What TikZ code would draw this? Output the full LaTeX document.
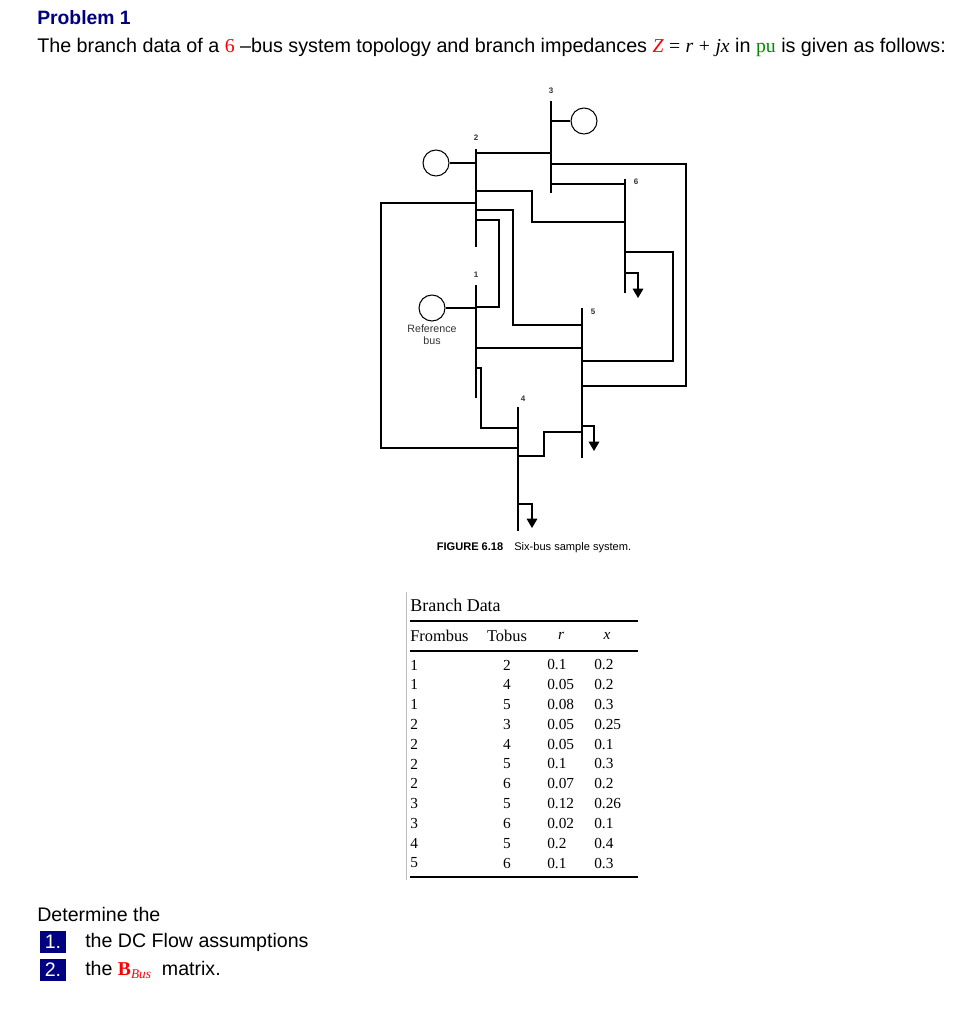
\documentclass[tikz,border=0pt]{standalone}
\usepackage{fontspec}
\setmainfont{Liberation Sans}
\newfontfamily\serif{Liberation Serif}
\definecolor{navy}{RGB}{0,0,128}
\definecolor{pugreen}{RGB}{0,140,0}
\usetikzlibrary{arrows.meta}
\begin{document}
\begin{tikzpicture}[x=0.75pt,y=-0.75pt,
  wire/.style={line width=0.8pt},
  bus/.style={line width=1.1pt},
  gen/.style={circle,draw,line width=0.8pt,minimum size=19.5pt,inner sep=0pt},
  lbl/.style={font=\fontsize{6}{7}\selectfont\bfseries,text=black!80,inner sep=0pt},
  load/.style={-{Triangle[length=7pt,width=8pt]},line width=0.8pt},
  hd/.style={anchor=west,inner sep=0pt},
  body/.style={font=\fontsize{14.7}{17}\selectfont},
  cell/.style={font=\serif\fontsize{11.5}{13}\selectfont,inner sep=0pt},
  num/.style={fill=navy,text=white,inner sep=0pt,minimum width=19.5pt,minimum height=17pt,font=\fontsize{14.7}{15}\selectfont}]
\useasboundingbox (0,0) rectangle (964,1024);
% header
\node[hd,font=\fontsize{14.5}{16}\selectfont\bfseries,text=navy] (title) at (37,18) {Problem 1};
\node[hd,font=\fontsize{14.8}{17}\selectfont] (intro) at (37,47) {The branch data of a {\serif\color{red}6} --bus system topology and branch impedances {\serif\itshape\color{red}Z} {\serif=} {\serif\itshape r} {\serif+} {\serif\itshape jx} in {\serif\color{pugreen}pu} is given as follows:};
% buses
\coordinate (b3t) at (551,101); \coordinate (b3b) at (551,193);
\coordinate (b2t) at (476,149); \coordinate (b2b) at (476,247);
\coordinate (b6t) at (625,179); \coordinate (b6b) at (625,293);
\coordinate (b1t) at (476,285); \coordinate (b1b) at (476,398);
\coordinate (b5t) at (582,308); \coordinate (b5b) at (582,458);
\coordinate (b4t) at (518,407); \coordinate (b4b) at (518,531);
\foreach \a/\b in {b3t/b3b,b2t/b2b,b6t/b6b,b1t/b1b,b5t/b5b,b4t/b4b} \draw[bus] (\a) -- (\b);
\node[lbl] (l3) at (551,91) {3};
\node[lbl] (l2) at (476,138) {2};
\node[lbl] (l6) at (636,182) {6};
\node[lbl] (l1) at (476,275) {1};
\node[lbl] (l5) at (593,312) {5};
\node[lbl] (l4) at (523,399) {4};
% generators
\node[gen] (g3) at (584,121) {};
\node[gen] (g2) at (436,163) {};
\node[gen] (g1) at (432,308) {};
\draw[wire] (g3.west) -- (551,121);
\draw[wire] (g2.east) -- (476,163);
\draw[wire] (g1.east) -- (476,308);
\node[font=\fontsize{8}{9}\selectfont,text=black!80,align=center,inner sep=0pt] (ref) at (432,335) {Reference\\bus};
% branches
\draw[wire] (476,153) -- (551,153); % 2-3
\draw[wire] (551,164) -- (686,164) -- (686,386) -- (582,386); % 3-5
\draw[wire] (551,184) -- (625,184); % 3-6
\draw[wire] (476,191) -- (532,191) -- (532,222) -- (625,222); % 2-6
\draw[wire] (476,203) -- (381,203) -- (381,448) -- (518,448); % 2-4
\draw[wire] (476,210) -- (513,210) -- (513,325) -- (582,325); % 2-5
\draw[wire] (476,220) -- (499,220) -- (499,307) -- (476,307); % 1-2
\draw[wire] (625,252) -- (673,252) -- (673,361) -- (582,361); % 5-6
\draw[wire] (476,348) -- (582,348); % 1-5
\draw[wire] (476,368) -- (481,368) -- (481,428) -- (518,428); % 1-4
\draw[wire] (518,456) -- (544,456) -- (544,432) -- (582,432); % 4-5
% loads
\draw[load] (625,273) -- (638,273) -- (638,298);
\draw[load] (582,426) -- (594,426) -- (594,451);
\draw[load] (518,504) -- (532,504) -- (532,528);
\node[font=\fontsize{8.3}{9}\selectfont,inner sep=0pt] (cap) at (534,548) {\textbf{FIGURE 6.18}\quad Six-bus sample system.};
% table
\draw[black!25,line width=0.6pt] (406,592) -- (406,880);
\node[hd,font=\serif\fontsize{13.5}{15}\selectfont] (bd) at (410,605) {Branch Data};
\draw[line width=1pt] (410,621) -- (638,621);
\draw[line width=1pt] (410,651) -- (638,651);
\draw[line width=1pt] (410,877) -- (638,877);
\node[cell,anchor=west,font=\serif\fontsize{12.3}{13}\selectfont] (h1) at (410,636) {Frombus};
\node[cell,font=\serif\fontsize{12.3}{13}\selectfont] (h2) at (507,636) {Tobus};
\node[cell] (h3) at (561,636) {\itshape r};
\node[cell] (h4) at (607,636) {\itshape x};
\foreach \f/\t/\r/\x [count=\i from 0] in {1/2/0.1/0.2,1/4/0.05/0.2,1/5/0.08/0.3,2/3/0.05/0.25,2/4/0.05/0.1,2/5/0.1/0.3,2/6/0.07/0.2,3/5/0.12/0.26,3/6/0.02/0.1,4/5/0.2/0.4,5/6/0.1/0.3}{
  \node[cell,anchor=west] (f\i) at (410,665+19.8*\i) {\f};
  \node[cell] (t\i) at (507,665+19.8*\i) {\t};
  \node[cell,anchor=west] (r\i) at (547,665+19.8*\i) {\r};
  \node[cell,anchor=west] (x\i) at (594,665+19.8*\i) {\x};
}
% bottom
\node[hd,body] (det) at (37,914) {Determine the};
\node[num] (n1) at (53,942) {1.};
\node[num] (n2) at (53,970) {2.};
\node[hd,body] (q1) at (85,942) {the DC Flow assumptions};
\node[hd,body] (q2) at (85,970) {the {\serif\bfseries\color{red}B}{\serif\itshape\color{red}\fontsize{10}{10}\selectfont\raisebox{-2pt}{Bus}}\ \ matrix.};
\end{tikzpicture}
\end{document}
